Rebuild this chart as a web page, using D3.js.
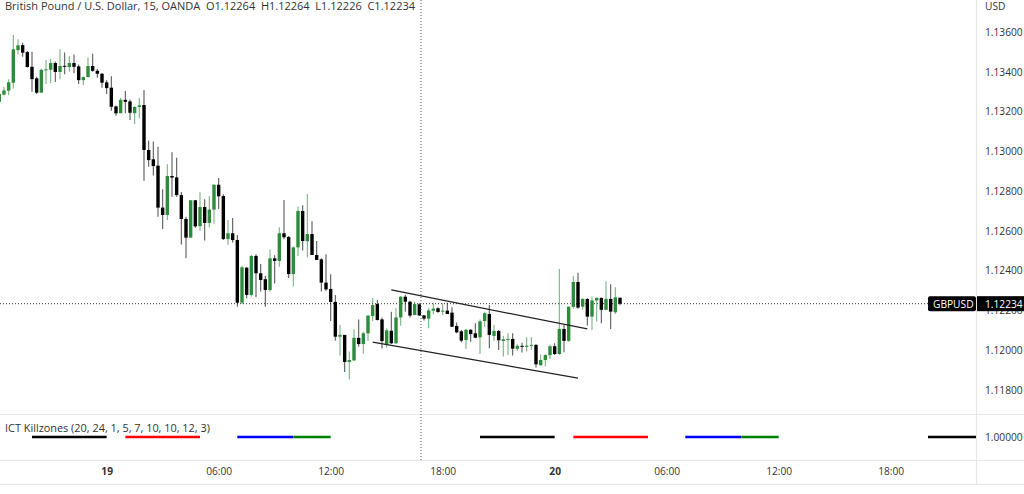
<!DOCTYPE html>
<meta charset="utf-8">
<style>
  html, body { margin: 0; padding: 0; background: #fff; overflow: hidden; }
  text { font-family: "Open Sans", sans-serif; fill: #333; white-space: pre; }
</style>
<script src="https://d3js.org/d3.v7.min.js"></script>
<div id="chart"></div>
<script>

// 15 minute bars, bar 23 is the 19th at 00:00
var opens = [1.13249,1.13285,1.13305,1.13345,1.13509,1.13534,1.13499,1.13425,1.13367,1.13295,
  1.13410,1.13410,1.13444,1.13399,1.13430,1.13424,1.13444,1.13427,1.13358,1.13373,
  1.13429,1.13405,1.13390,1.13347,1.13320,1.13226,1.13192,1.13259,1.13251,1.13192,
  1.13223,1.13233,1.13007,1.12960,1.12928,1.12717,1.12680,1.12876,1.12869,1.12780,
  1.12660,1.12566,1.12754,1.12624,1.12720,1.12640,1.12707,1.12832,1.12775,1.12559,
  1.12588,1.12554,1.12239,1.12415,1.12278,1.12474,1.12387,1.12357,1.12303,1.12462,
  1.12449,1.12588,1.12569,1.12383,1.12517,1.12700,1.12548,1.12584,1.12479,1.12457,
  1.12340,1.12308,1.12243,1.12068,1.12077,1.11941,1.11949,1.12062,1.12031,1.12085,
  1.12172,1.12232,1.12155,1.12026,1.12098,1.12035,1.12165,1.12269,1.12244,1.12177,
  1.12231,1.12175,1.12159,1.12199,1.12211,1.12195,1.12199,1.12189,1.12122,1.12095,
  1.12051,1.12103,1.12085,1.12065,1.12147,1.12182,1.12072,1.12097,1.12047,1.12052,
  1.12057,1.12007,1.12022,1.12017,1.12022,1.12027,1.11924,1.11951,1.11975,1.12020,
  1.11981,1.12107,1.12047,1.12218,1.12343,1.12219,1.12258,1.12169,1.12250,1.12263,
  1.12203,1.12258,1.12191,1.12264];
var highs = [1.13288,1.13325,1.13362,1.13585,1.13563,1.13546,1.13504,1.13501,1.13375,1.13415,
  1.13459,1.13464,1.13452,1.13513,1.13497,1.13479,1.13487,1.13437,1.13378,1.13472,
  1.13491,1.13414,1.13394,1.13358,1.13378,1.13231,1.13270,1.13303,1.13261,1.13228,
  1.13268,1.13308,1.13054,1.13050,1.13023,1.12809,1.12935,1.12995,1.12968,1.12795,
  1.12671,1.12755,1.12755,1.12794,1.12759,1.12774,1.12834,1.12866,1.12784,1.12655,
  1.12665,1.12579,1.12425,1.12417,1.12479,1.12482,1.12434,1.12375,1.12507,1.12477,
  1.12618,1.12755,1.12574,1.12521,1.12722,1.12729,1.12786,1.12648,1.12549,1.12462,
  1.12482,1.12382,1.12278,1.12127,1.12077,1.11993,1.12105,1.12155,1.12093,1.12177,
  1.12263,1.12252,1.12165,1.12110,1.12194,1.12211,1.12273,1.12278,1.12249,1.12244,
  1.12236,1.12177,1.12211,1.12236,1.12216,1.12236,1.12239,1.12216,1.12140,1.12102,
  1.12107,1.12105,1.12135,1.12155,1.12194,1.12228,1.12127,1.12102,1.12072,1.12085,
  1.12085,1.12030,1.12038,1.12065,1.12065,1.12030,1.11980,1.11980,1.12027,1.12035,
  1.12409,1.12127,1.12219,1.12374,1.12390,1.12261,1.12261,1.12270,1.12266,1.12265,
  1.12347,1.12332,1.12317,1.12264];
var lows = [1.13249,1.13281,1.13283,1.13316,1.13487,1.13476,1.13422,1.13300,1.13288,1.13295,
  1.13338,1.13342,1.13348,1.13362,1.13388,1.13400,1.13392,1.13338,1.13333,1.13372,
  1.13400,1.13370,1.13320,1.13288,1.13204,1.13179,1.13191,1.13192,1.13157,1.13137,
  1.13166,1.12852,1.12923,1.12878,1.12671,1.12609,1.12655,1.12772,1.12772,1.12532,
  1.12462,1.12566,1.12614,1.12601,1.12552,1.12618,1.12636,1.12710,1.12554,1.12529,
  1.12541,1.12219,1.12233,1.12261,1.12269,1.12266,1.12295,1.12219,1.12295,1.12336,
  1.12420,1.12558,1.12363,1.12320,1.12474,1.12501,1.12467,1.12479,1.12454,1.12295,
  1.12298,1.12147,1.12048,1.11973,1.11891,1.11854,1.11946,1.12018,1.11984,1.12046,
  1.12147,1.12149,1.12009,1.12013,1.12031,1.12031,1.12123,1.12194,1.12165,1.12177,
  1.12172,1.12149,1.12110,1.12180,1.12189,1.12177,1.12182,1.12118,1.12085,1.12040,
  1.12006,1.12043,1.12060,1.11981,1.12119,1.12010,1.12048,1.12001,1.11968,1.11976,
  1.11973,1.11996,1.11988,1.11993,1.12001,1.11913,1.11924,1.11918,1.11955,1.11976,
  1.11976,1.11990,1.12043,1.12209,1.12209,1.12203,1.12124,1.12102,1.12144,1.12136,
  1.12203,1.12107,1.12182,1.12226];
var closes = [1.13288,1.13306,1.13347,1.13513,1.13533,1.13496,1.13424,1.13363,1.13295,1.13410,
  1.13412,1.13444,1.13399,1.13429,1.13427,1.13444,1.13425,1.13358,1.13373,1.13429,
  1.13405,1.13390,1.13345,1.13318,1.13224,1.13191,1.13259,1.13249,1.13194,1.13223,
  1.13231,1.13007,1.12956,1.12926,1.12717,1.12680,1.12876,1.12868,1.12780,1.12660,
  1.12566,1.12754,1.12623,1.12720,1.12640,1.12707,1.12832,1.12774,1.12559,1.12588,
  1.12554,1.12239,1.12417,1.12278,1.12474,1.12387,1.12353,1.12303,1.12462,1.12449,
  1.12588,1.12568,1.12383,1.12517,1.12700,1.12549,1.12584,1.12479,1.12454,1.12340,
  1.12306,1.12243,1.12068,1.12077,1.11941,1.11951,1.12062,1.12031,1.12085,1.12174,
  1.12227,1.12152,1.12046,1.12100,1.12035,1.12165,1.12269,1.12244,1.12174,1.12232,
  1.12175,1.12159,1.12200,1.12209,1.12192,1.12199,1.12182,1.12118,1.12090,1.12048,
  1.12103,1.12081,1.12063,1.12145,1.12186,1.12077,1.12097,1.12050,1.12055,1.12057,
  1.12008,1.12022,1.12018,1.12023,1.12027,1.11929,1.11951,1.11976,1.12020,1.11981,
  1.12107,1.12047,1.12219,1.12343,1.12214,1.12258,1.12169,1.12250,1.12263,1.12203,
  1.12258,1.12194,1.12266,1.12234];

var priceTicks = [1.136,1.134,1.132,1.13,1.128,1.126,1.124,1.122,1.12,1.118];

// x axis labels, position in bars
var timeTicks = [23,47,71,95,119,143,167,191];
var timeLabels = ["19","06:00","12:00","18:00","20","06:00","12:00","18:00"];

// killzones in bars: start, end
var zoneStarts = [7,27,51,63,103,123,147,159,199];
var zoneEnds = [23,43,63,71,119,139,159,167,215];
var zoneColors = ["#000","#f00","#00f","#008000","#000","#f00","#00f","#008000","#000"];

// trend lines: bar, price
var upperLine = [[84,1.12303],[126,1.12107]];
var lowerLine = [[80,1.12041],[124,1.11860]];

var lastPrice = 1.12234;
var cursorBar = 90.35;

var width = 1024, height = 494, plotRight = 976,
    paneBottom = 414, killBottom = 460, timeBottom = 484;

var svg = d3.select("#chart").append("svg")
    .attr("width", width)
    .attr("height", height)
    .style("display", "block");

svg.append("defs").append("clipPath").attr("id", "plot")
  .append("rect").attr("width", plotRight).attr("height", paneBottom);
svg.select("defs").append("clipPath").attr("id", "killPane")
  .append("rect").attr("y", paneBottom).attr("width", plotRight).attr("height", killBottom - paneBottom);

// scales
var x = d3.scaleLinear().domain([0, 133]).range([-0.67, 620]);
var y = d3.scaleLinear().domain([1.136, 1.118]).range([32, 390]);
var yKill = d3.scaleLinear().domain([1, 0]).range([437, 460]);

// pane borders
var borderColor = "#e6e6e6";
[paneBottom, killBottom, timeBottom].forEach(function(b) {
  svg.append("line").attr("x1", 0).attr("x2", width).attr("y1", b + 0.5).attr("y2", b + 0.5)
    .attr("stroke", borderColor).attr("stroke-width", 1.2);
});
svg.append("line").attr("x1", plotRight + 0.5).attr("x2", plotRight + 0.5).attr("y1", 0).attr("y2", timeBottom)
  .attr("stroke", borderColor).attr("stroke-width", 1.2);

// price axis
var yAxis = svg.append("g")
  .attr("transform", "translate(" + plotRight + ",0)")
  .call(d3.axisRight(y).tickValues(priceTicks).tickFormat(d3.format(".5f")).tickSize(0).tickPadding(9));
yAxis.select(".domain").remove();
yAxis.selectAll("text").style("font-size", "10.2px");

var killAxis = svg.append("g")
  .attr("transform", "translate(" + plotRight + ",0)")
  .call(d3.axisRight(yKill).tickValues([1]).tickFormat(d3.format(".5f")).tickSize(0).tickPadding(9));
killAxis.select(".domain").remove();
killAxis.selectAll("text").style("font-size", "10.2px");

svg.append("text").attr("x", 985).attr("y", 10).style("font-size", "10.2px").text("USD");

// time axis
var xAxis = svg.append("g")
  .attr("transform", "translate(0," + 468 + ")")
  .call(d3.axisBottom(x).tickValues(timeTicks).tickFormat(function(d, i) { return timeLabels[i]; }).tickSize(0).tickPadding(0));
xAxis.select(".domain").remove();
xAxis.selectAll("text")
  .style("font-size", "10.2px")
  .style("font-weight", function(d, i) { return timeLabels[i].length < 3 ? "bold" : "normal"; });

var plot = svg.append("g").attr("clip-path", "url(#plot)");

// current price line
plot.append("line")
  .attr("x1", 0).attr("x2", 930)
  .attr("y1", y(lastPrice)).attr("y2", y(lastPrice))
  .attr("stroke", "#333").attr("stroke-dasharray", "1 2");

// candles
var bars = d3.range(opens.length);
var green = "#2e8b3c";
function barColor(i) { return closes[i] >= opens[i] ? green : "#000"; }

plot.selectAll(".wick").data(bars).enter().append("line")
  .attr("class", "wick")
  .attr("x1", function(i) { return x(i); })
  .attr("x2", function(i) { return x(i); })
  .attr("y1", function(i) { return y(highs[i]); })
  .attr("y2", function(i) { return y(lows[i]); })
  .attr("stroke", barColor)
  .attr("stroke-opacity", 0.65)
  .attr("stroke-width", 1.1);

plot.selectAll(".body").data(bars).enter().append("rect")
  .attr("class", "body")
  .attr("x", function(i) { return x(i) - 1.7; })
  .attr("width", 3.4)
  .attr("y", function(i) { return y(Math.max(opens[i], closes[i])); })
  .attr("height", function(i) { return Math.max(1, Math.abs(y(opens[i]) - y(closes[i]))); })
  .attr("fill", barColor);

// trend lines
var trend = d3.line().x(function(d) { return x(d[0]); }).y(function(d) { return y(d[1]); });
[upperLine, lowerLine].forEach(function(l) {
  plot.append("path").attr("d", trend(l)).attr("fill", "none")
    .attr("stroke", "#222").attr("stroke-width", 1.2);
});

// killzones
svg.append("g").attr("clip-path", "url(#killPane)")
  .selectAll("line").data(zoneStarts).enter().append("line")
  .attr("x1", function(d) { return x(d); })
  .attr("x2", function(d, i) { return x(zoneEnds[i]); })
  .attr("y1", yKill(1))
  .attr("y2", yKill(1))
  .attr("stroke", function(d, i) { return zoneColors[i]; })
  .attr("stroke-width", 2.5);

// crosshair
svg.append("line")
  .attr("x1", x(cursorBar)).attr("x2", x(cursorBar))
  .attr("y1", 0).attr("y2", killBottom)
  .attr("stroke", "#555").attr("stroke-dasharray", "1 2");

// price labels
svg.append("rect").attr("x", 928).attr("y", y(lastPrice) - 7.5).attr("width", 48).attr("height", 15).attr("rx", 2).attr("fill", "#000");
svg.append("rect").attr("x", 977).attr("y", y(lastPrice) - 7.5).attr("width", 47).attr("height", 15).attr("fill", "#000");
svg.append("text").attr("x", 933).attr("y", y(lastPrice) + 4)
  .style("font-size", "10.2px").style("fill", "#fff").text("GBPUSD");
svg.append("text").attr("x", 985).attr("y", y(lastPrice) + 4)
  .style("font-size", "10.2px").style("fill", "#fff").text(d3.format(".5f")(lastPrice));

// legends
svg.append("text").attr("x", 5).attr("y", 10).style("font-size", "11px")
  .text("British Pound / U.S. Dollar, 15, OANDA  O1.12264  H1.12264  L1.12226  C1.12234");
svg.append("text").attr("x", 5).attr("y", 432).style("font-size", "10.9px")
  .text("ICT Killzones (20, 24, 1, 5, 7, 10, 10, 12, 3)");
</script>
